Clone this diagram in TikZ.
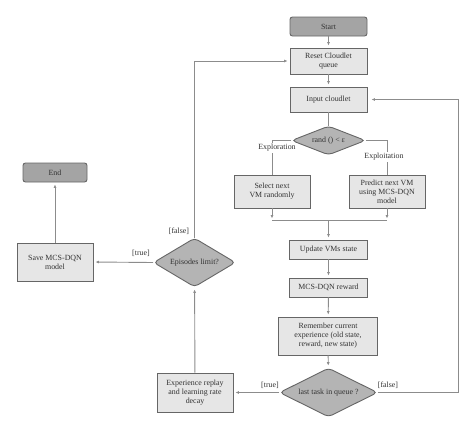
\documentclass[tikz,border=0pt]{standalone}
\usepackage{fontspec}
\setmainfont{Liberation Serif}
\usetikzlibrary{shapes.geometric,arrows.meta}
\definecolor{txt}{HTML}{333333}
\definecolor{ln}{HTML}{8C8C8C}
\definecolor{bd}{HTML}{666666}
\definecolor{boxfill}{HTML}{E6E6E6}
\definecolor{termfill}{HTML}{A4A4A4}
\definecolor{decfill}{HTML}{B4B4B4}
\tikzset{
  every node/.style={font=\fontsize{7.9}{9}\selectfont, text=txt},
  procbox/.style={draw=bd, line width=0.9pt, fill=boxfill, align=center, inner sep=1pt},
  termbox/.style={draw=bd, line width=0.9pt, fill=termfill, rounded corners=2.5pt, align=center, inner sep=1pt},
  decbox/.style={diamond, shape aspect=2, draw=bd, line width=0.9pt, fill=decfill, rounded corners=4pt, align=center, inner sep=0pt},
  conn/.style={draw=ln, line width=0.9pt},
  arr/.style={conn, -{Latex[length=3.5pt,width=3pt]}, shorten >=2pt},
  lbl/.style={inner sep=1pt},
}
\begin{document}
\begin{tikzpicture}[x=1pt,y=-1pt]
\useasboundingbox (0,0) rectangle (474,434);
\node[termbox, minimum width=77pt, minimum height=19pt] (start) at (328.5,26.5) {Start};
\node[procbox, minimum width=77pt, minimum height=26pt] (reset) at (328.5,61) {Reset Cloudlet\\queue};
\node[procbox, minimum width=77pt, minimum height=25pt] (input) at (328.5,99.5) {Input cloudlet};
\node[decbox, minimum width=74pt, minimum height=29pt] (rand) at (328.5,140.5) {rand () < ε};
\node[procbox, minimum width=76pt, minimum height=33pt] (select) at (272,191.5) {Select next\\VM randomly};
\node[procbox, minimum width=76pt, minimum height=33pt] (predict) at (387,191.5) {Predict next VM\\using MCS-DQN\\model};
\node[procbox, minimum width=78pt, minimum height=19pt] (update) at (328.5,249.5) {Update VMs state};
\node[procbox, minimum width=78pt, minimum height=19pt] (reward) at (328.5,287.5) {MCS-DQN reward};
\node[procbox, minimum width=99pt, minimum height=38pt] (remember) at (328,336) {Remember current\\experience (old state,\\reward, new state)};
\node[decbox, minimum width=98pt, minimum height=49pt] (last) at (328.5,392.5) {last task in queue ?};
\node[procbox, minimum width=76pt, minimum height=39pt] (exp) at (195,392.5) {Experience replay\\and learning rate\\decay};
\node[decbox, minimum width=82pt, minimum height=49pt] (epis) at (194.5,262.5) {Episodes limit?};
\node[procbox, minimum width=76pt, minimum height=38pt] (save) at (55,262) {Save MCS-DQN\\model};
\node[termbox, minimum width=64pt, minimum height=19pt] (end) at (55,172.5) {End};

\coordinate (m) at (328.5,220);
\coordinate (fr) at (458,392.5);
\coordinate (ft) at (194.5,61);

\draw[arr] (start) -- (reset);
\draw[arr] (reset) -- (input);
\draw[conn] (input) -- (rand);
\draw[conn] (rand.west) -| (select.north);
\draw[conn] (rand.east) -| (predict.north);
\draw[arr, shorten >=1.5pt] (select.south) -- (select.south |- m);
\draw[arr, shorten >=1.5pt] (predict.south) -- (predict.south |- m);
\draw[conn] (select.south |- m) -- (predict.south |- m);
\draw[arr] (m) -- (update);
\draw[arr] (update) -- (reward);
\draw[arr] (reward) -- (remember);
\draw[arr] (remember) -- (last);
\draw[arr, shorten >=4pt] (last.east) -- (fr) |- (input.east);
\draw[arr] (last.west) -- (exp.east);
\draw[arr] (exp) -- (epis);
\draw[arr] (epis.west) -- (save.east);
\draw[arr] (epis.north) -- (ft) -- (reset.west);
\draw[arr] (save) -- (end);

\node[lbl, fill=white] (lexplor) at (277,148) {Exploration};
\node[lbl, fill=white] (lexploi) at (384,157) {Exploitation};
\node[lbl] (ltrue1) at (270,385) {[true]};
\node[lbl] (lfalse1) at (388,385) {[false]};
\node[lbl] (ltrue2) at (141,253) {[true]};
\node[lbl] (lfalse2) at (179,231) {[false]};
\end{tikzpicture}
\end{document}
